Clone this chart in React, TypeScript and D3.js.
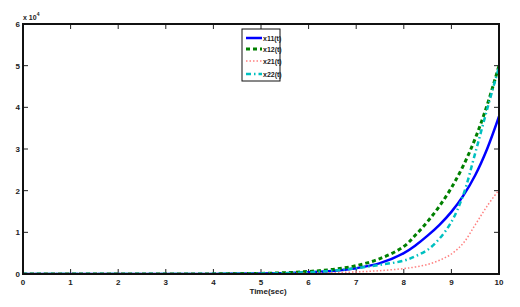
import React from "react";
import * as d3 from "d3";

// time (sec)
const times = [0, 1, 2, 3, 4, 5, 5.5, 6, 6.5, 7, 7.5, 8, 8.25, 8.5, 8.75, 9, 9.25, 9.5, 9.75, 10];
// values in units of 10^4
const x11 = [0, 0, 0, 0, 0.002, 0.01, 0.02, 0.04, 0.07, 0.14, 0.26, 0.5, 0.69, 0.92, 1.18, 1.49, 1.88, 2.37, 3.0, 3.78];
const x12 = [0, 0, 0, 0, 0.003, 0.015, 0.03, 0.06, 0.11, 0.2, 0.37, 0.66, 0.94, 1.26, 1.63, 2.07, 2.6, 3.25, 4.05, 5.0];
const x21 = [0, 0, 0, 0, 0.001, 0.005, 0.01, 0.02, 0.03, 0.05, 0.08, 0.13, 0.17, 0.23, 0.33, 0.48, 0.74, 1.18, 1.63, 2.02];
const x22 = [0, 0, 0, 0, 0.003, 0.01, 0.02, 0.04, 0.08, 0.14, 0.22, 0.32, 0.43, 0.58, 0.85, 1.25, 1.9, 2.9, 3.95, 4.97];
const xTicks = [0, 1, 2, 3, 4, 5, 6, 7, 8, 9, 10];
const yTicks = [0, 1, 2, 3, 4, 5, 6];

const series = [
  { name: "x11(t)", values: x11, color: "#0000ff", width: 2.5, dash: "" },
  { name: "x12(t)", values: x12, color: "#008000", width: 3, dash: "4,3" },
  { name: "x21(t)", values: x21, color: "#ff8080", width: 1.5, dash: "1.5,2" },
  { name: "x22(t)", values: x22, color: "#00c0c0", width: 2.5, dash: "5,3,1.5,3" },
];

export default function App() {
  const W = 520, H = 307;
  const L = 23, R = 499, T = 24, B = 274;
  const x = d3.scaleLinear().domain([0, 10]).range([L, R]);
  const y = d3.scaleLinear().domain([0, 6]).range([B, T]);
  const font = "'Liberation Sans', Arial, sans-serif";
  const lineGen = (vals: number[]) =>
    d3.line<number>().x((_, i) => x(times[i])).y((d) => y(d)).curve(d3.curveCatmullRom.alpha(0.5))(vals) || "";
  const tl = 5;
  const legX = 242, legY = 29, legW = 38, legH = 52;
  const rowY = [38, 49, 61, 74];
  return (
    <svg width={W} height={H} style={{ position: "absolute", left: 0, top: 0, background: "#fff" }}>
      <rect x={0} y={0} width={W} height={H} fill="#fff" />
      <defs>
        <clipPath id="plot">
          <rect x={L} y={T - 2} width={R - L} height={B - T + 2} />
        </clipPath>
      </defs>
      {xTicks.map((t) => (
        <g key={"xt" + t}>
          <line x1={x(t)} x2={x(t)} y1={B} y2={B - tl} stroke="#222" strokeWidth={1} />
          <line x1={x(t)} x2={x(t)} y1={T} y2={T + tl} stroke="#222" strokeWidth={1} />
          <text x={x(t)} y={B + 11} textAnchor="middle" fontSize={8} fontWeight="bold" fontFamily={font} fill="#222">
            {t}
          </text>
        </g>
      ))}
      {yTicks.map((t) => (
        <g key={"yt" + t}>
          <line x1={L} x2={L + tl} y1={y(t)} y2={y(t)} stroke="#222" strokeWidth={1} />
          <line x1={R} x2={R - tl} y1={y(t)} y2={y(t)} stroke="#222" strokeWidth={1} />
          <text x={L - 3} y={y(t) + 3} textAnchor="end" fontSize={8} fontWeight="bold" fontFamily={font} fill="#222">
            {t}
          </text>
        </g>
      ))}
      <text x={L} y={20} fontSize={7} fontWeight="bold" fontFamily={font} fill="#222">
        x 10
        <tspan dy={-4} fontSize={5}>4</tspan>
      </text>
      <g clipPath="url(#plot)">
        {series.map((s) => (
          <path
            key={s.name}
            d={lineGen(s.values)}
            fill="none"
            stroke={s.color}
            strokeWidth={s.width}
            strokeDasharray={s.dash || undefined}
          />
        ))}
      </g>
      <rect x={L} y={T} width={R - L} height={B - T} fill="none" stroke="#111" strokeWidth={2} />
      <rect x={legX} y={legY} width={legW} height={legH} fill="#fff" stroke="#111" strokeWidth={1} />
      {series.map((s, i) => (
        <g key={"lg" + s.name}>
          <line
            x1={legX + 4}
            x2={legX + 20}
            y1={rowY[i]}
            y2={rowY[i]}
            stroke={s.color}
            strokeWidth={s.width}
            strokeDasharray={s.dash || undefined}
          />
          <text x={legX + 21} y={rowY[i] + 2.5} fontSize={7} fontWeight="bold" fontFamily={font} fill="#222">
            {s.name}
          </text>
        </g>
      ))}
      <text x={(L + R) / 2 + 7} y={B + 20} textAnchor="middle" fontSize={8} fontWeight="bold" fontFamily={font} fill="#222">
        Time(sec)
      </text>
    </svg>
  );
}
